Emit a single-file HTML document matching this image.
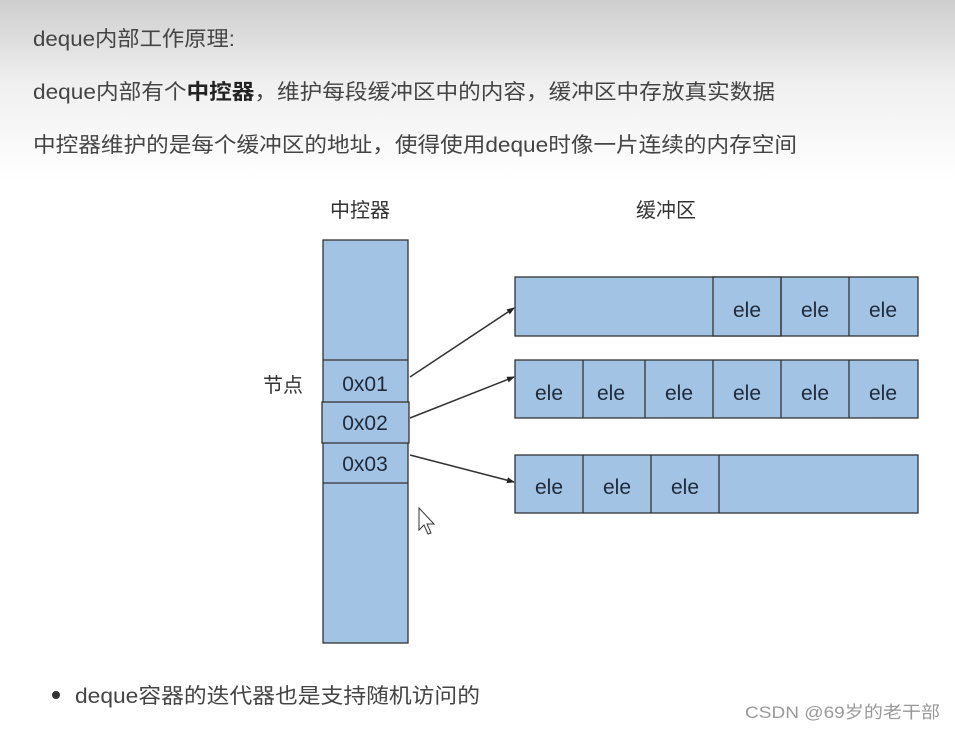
<!DOCTYPE html>
<html><head><meta charset="utf-8"><style>
html,body{margin:0;padding:0;width:955px;height:729px;overflow:hidden;background:#fff}
svg{display:block}
text{font-family:"Liberation Sans","Noto Sans CJK SC",sans-serif}
</style></head><body>
<svg width="955" height="729" xmlns="http://www.w3.org/2000/svg">
<defs>
<linearGradient id="bg" x1="0" y1="0" x2="0" y2="1">
<stop offset="0" stop-color="#cdcecd"/><stop offset="0.45" stop-color="#eeefee"/><stop offset="1" stop-color="#ffffff"/>
</linearGradient>
<marker id="ah" markerWidth="8" markerHeight="8" refX="7" refY="4" orient="auto" markerUnits="userSpaceOnUse">
<path d="M0,1 L8,4 L0,7 z" fill="#222"/></marker>
</defs>
<rect x="0" y="0" width="955" height="180" fill="url(#bg)"/>
<g fill="#444" font-size="21">
<text x="33" y="46" textLength="202" lengthAdjust="spacingAndGlyphs">deque内部工作原理:</text>
<text x="33" y="99" textLength="742" lengthAdjust="spacingAndGlyphs">deque内部有个<tspan font-weight="bold" fill="#222">中控器</tspan>，维护每段缓冲区中的内容，缓冲区中存放真实数据</text>
<text x="33" y="152" textLength="764" lengthAdjust="spacingAndGlyphs">中控器维护的是每个缓冲区的地址，使得使用deque时像一片连续的内存空间</text>
</g>
<g fill="#333" font-size="20">
<text x="330" y="217">中控器</text>
<text x="636" y="217">缓冲区</text>
<text x="263" y="392">节点</text>
</g>
<g fill="#a3c3e4" stroke="#333" stroke-width="1.3">
<rect x="323" y="240" width="85" height="403"/>
<line x1="323" y1="360" x2="408" y2="360"/>
<line x1="323" y1="483" x2="408" y2="483"/>
<rect x="322" y="402" width="87" height="41"/>
<rect x="515" y="277" width="403" height="59"/>
<rect x="713" y="277" width="68" height="59"/>
<line x1="781" y1="277" x2="781" y2="336"/><line x1="849" y1="277" x2="849" y2="336"/>
<rect x="515" y="360" width="403" height="58"/>
<line x1="583" y1="360" x2="583" y2="418"/><line x1="645" y1="360" x2="645" y2="418"/>
<line x1="713" y1="360" x2="713" y2="418"/><line x1="781" y1="360" x2="781" y2="418"/>
<line x1="849" y1="360" x2="849" y2="418"/>
<rect x="515" y="455" width="403" height="58"/>
<line x1="583" y1="455" x2="583" y2="513"/><line x1="651" y1="455" x2="651" y2="513"/>
<line x1="719" y1="455" x2="719" y2="513"/>
</g>
<g fill="#1e2a3a" font-size="21" text-anchor="middle">
<text x="365" y="391">0x01</text><text x="365" y="430">0x02</text><text x="365" y="471">0x03</text>
<text x="747" y="317">ele</text><text x="815" y="317">ele</text><text x="883" y="317">ele</text>
<text x="549" y="400">ele</text><text x="611" y="400">ele</text><text x="679" y="400">ele</text>
<text x="747" y="400">ele</text><text x="815" y="400">ele</text><text x="883" y="400">ele</text>
<text x="549" y="494">ele</text><text x="617" y="494">ele</text><text x="685" y="494">ele</text>
</g>
<g stroke="#333" stroke-width="1.5" marker-end="url(#ah)">
<line x1="410" y1="377" x2="514" y2="308"/>
<line x1="410" y1="418" x2="514" y2="377"/>
<line x1="410" y1="455" x2="514" y2="482"/>
</g>
<path d="M419,508 L419,530 L424,525 L428,534 L431,533 L427,524 L434,524 Z" fill="#fff" stroke="#333" stroke-width="1"/>
<circle cx="56" cy="695" r="4" fill="#333"/>
<text x="75" y="703" fill="#444" font-size="21" textLength="405" lengthAdjust="spacingAndGlyphs">deque容器的迭代器也是支持随机访问的</text>
<text x="745" y="718" fill="#999" font-size="17" textLength="195" lengthAdjust="spacingAndGlyphs">CSDN @69岁的老干部</text>
</svg>
</body></html>
